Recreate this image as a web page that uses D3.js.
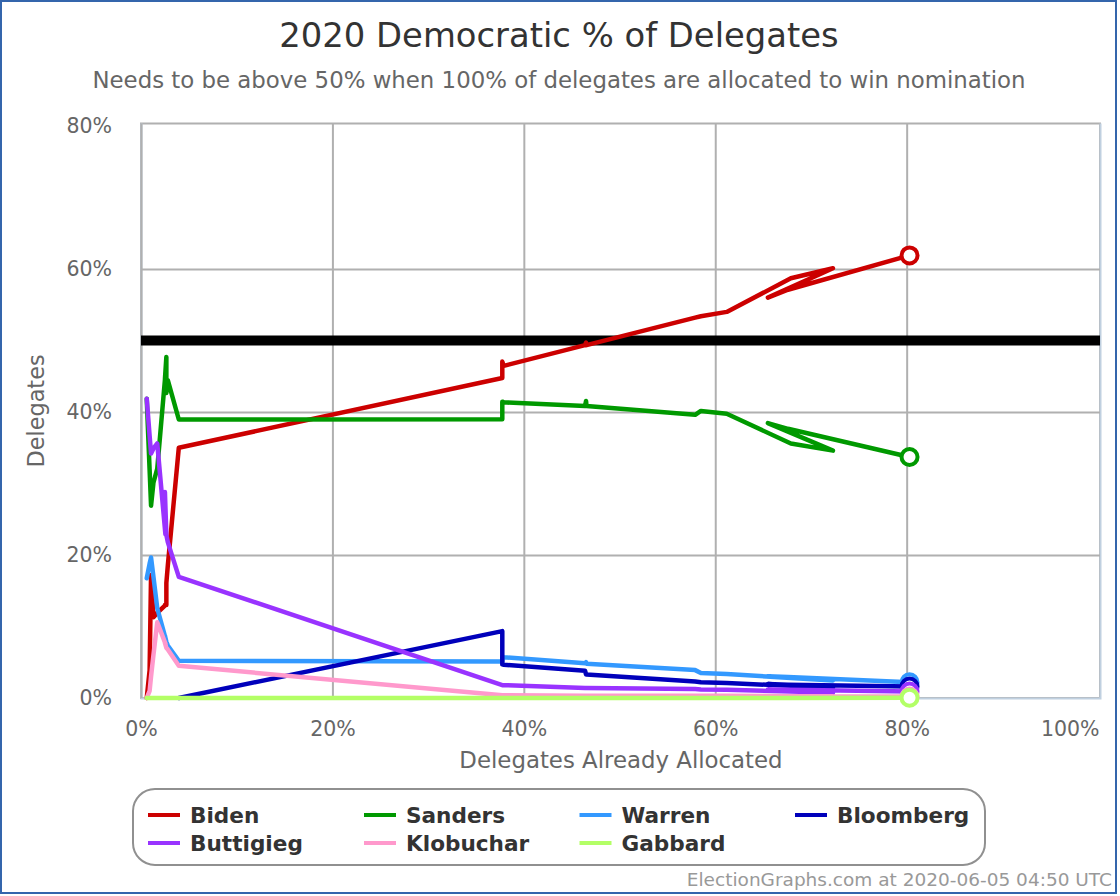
<!DOCTYPE html>
<html><head><meta charset="utf-8">
<script src="https://cdn.jsdelivr.net/npm/d3@7/dist/d3.min.js"></script>
<style>html,body{margin:0;padding:0;background:#fff}svg{display:block}text{font-family:"DejaVu Sans",sans-serif}</style>
</head><body><svg id="c" width="1120" height="896"></svg>
<script>
const allocated=[0.6,0.9,1.05,1.3,1.7,2.55,2.5,2.65,2.65,2.8,3.95,37.75,37.75,37.9,46.4,46.5,46.55,57.9,58.5,61.2,67.9,72.3,65.5,67.6,80.3];
const biden=[0,3.9,17.2,11.3,11.9,13,13,13,16.1,18.5,35,44.75,47.05,46.45,49.35,49.7,49.35,53.2,53.4,54,58.7,60.1,56,57.1,61.9];
const sanders=[41.85,31.9,26.9,30.1,32.1,45.3,44.6,47.7,42.65,44.45,38.95,39,41.45,41.35,40.85,41.55,40.85,39.6,40.15,39.75,35.6,34.6,38.45,37.65,33.7];
const warren=[16.75,18.8,19.65,16.95,12.55,8.4,8.7,7.85,7.85,7.35,5.2,5.1,5.75,5.7,4.85,5,4.8,3.9,3.5,3.35,2.8,2.45,3.05,2.95,2.2];
const bloomberg=[null,null,null,null,null,null,null,null,null,null,0,9.35,4.7,4.65,3.8,3.3,3.3,2.3,2.2,2.1,1.7,1.45,1.95,1.85,1.6];
const buttigieg=[41.85,36.7,34.2,34.9,35.6,22.9,28.8,22.8,22.8,21.8,16.95,1.8,1.8,1.8,1.4,1.4,1.4,1.25,1.2,1.15,0.9,0.75,1.2,1.15,0.9];
const klobuchar=[0,1,3,6,10.6,7.6,7.7,7,7,6.8,4.5,0.4,0.4,0.4,0.3,0.3,0.3,0.3,0.3,0.3,0.25,0.25,0.25,0.25,0.2];
const gabbard=[0,0,0,0,0,0,0,0,0,0,0,0,0,0,0,0,0,0,0,0,0,0,0,0,0.05];
const names=["Biden","Sanders","Warren","Bloomberg","Buttigieg","Klobuchar","Gabbard"];
const values=[biden,sanders,warren,bloomberg,buttigieg,klobuchar,gabbard];
const colors=["#cc0000","#009900","#3399ff","#0000bb","#9933ff","#ff99cc","#b3ff66"];
const xTicks=[0,20,40,60,80,100];
const yTicks=[0,20,40,60,80];
const threshold=50;
const titleText="2020 Democratic % of Delegates";
const subtitleText="Needs to be above 50% when 100% of delegates are allocated to win nomination";
const xTitle="Delegates Already Allocated";
const yTitle="Delegates";
const credit="ElectionGraphs.com at 2020-06-05 04:50 UTC";

const svg=d3.select("#c");
const L=141,R=1100,T=123.5,B=698;
const x=d3.scaleLinear().domain([0,100.2]).range([L,R]);
const y=d3.scaleLinear().domain([0,80.35]).range([B,T]);

svg.append("rect").attr("x",1).attr("y",1).attr("width",1115).attr("height",892).attr("fill","#fff").attr("stroke","#3465ac").attr("stroke-width",2);

svg.append("rect").attr("x",L).attr("y",T).attr("width",R-L).attr("height",B-T).attr("fill","none").attr("stroke","#b0b0b0").attr("stroke-width",2);

const gx=svg.append("g").attr("transform",`translate(0,${B})`)
  .call(d3.axisBottom(x).tickValues(xTicks).tickFormat(d=>d+"%").tickSize(-(B-T)).tickPadding(23));
const gy=svg.append("g").attr("transform",`translate(${L},0)`)
  .call(d3.axisLeft(y).tickValues(yTicks).tickFormat(d=>d+"%").tickSize(-(R-L)).tickPadding(29));
gx.select(".domain").attr("stroke","#c0d0e0").attr("stroke-width",2);
gy.select(".domain").remove();
gx.selectAll(".tick line").attr("stroke","#b0b0b0").attr("stroke-width",2);
gy.selectAll(".tick line").attr("stroke","#b0b0b0").attr("stroke-width",2);
gx.selectAll("text").attr("fill","#666").style("font-size","20.5px");
gy.selectAll("text").attr("fill","#666").style("font-size","20.5px");
gx.selectAll(".tick").filter(d=>d===100).select("line").remove();
gx.selectAll(".tick").filter(d=>d===100).select("text").attr("text-anchor","end").attr("x",1);
gy.selectAll(".tick").filter(d=>d===80||d===0).select("line").remove();

svg.append("line").attr("x1",L).attr("x2",R).attr("y1",y(threshold)).attr("y2",y(threshold)).attr("stroke","#000").attr("stroke-width",10);

const line=d3.line().defined(d=>d[1]!==null).x(d=>x(d[0])).y(d=>y(d[1]));
values.forEach((v,i)=>{
  const pts=v.map((d,k)=>[allocated[k],d]);
  svg.append("path").attr("d",line(pts)).attr("fill","none").attr("stroke",colors[i]).attr("stroke-width",4.5).attr("stroke-linejoin","round").attr("stroke-linecap","round");
  const last=pts[pts.length-1];
  svg.append("circle").attr("cx",x(last[0])).attr("cy",y(last[1])).attr("r",8).attr("fill","#fff").attr("stroke",colors[i]).attr("stroke-width",4);
});

svg.append("text").attr("x",559).attr("y",47).attr("text-anchor","middle").attr("fill","#333").style("font-size","33.8px").text(titleText);
svg.append("text").attr("x",559).attr("y",88).attr("text-anchor","middle").attr("fill","#666").style("font-size","22.85px").text(subtitleText);
svg.append("text").attr("x",621).attr("y",768).attr("text-anchor","middle").attr("fill","#666").style("font-size","22.85px").text(xTitle);
svg.append("text").attr("transform","translate(44,411) rotate(-90)").attr("text-anchor","middle").attr("fill","#666").style("font-size","22.4px").text(yTitle);

svg.append("rect").attr("x",133).attr("y",789).attr("width",852).attr("height",76).attr("rx",22).attr("ry",22).attr("fill","#fff").attr("stroke","#909090").attr("stroke-width",2);
const colX=[148,364,579.5,795],rowY=[815,843];
names.forEach((n,i)=>{
  const cx=colX[i%4],cy=rowY[Math.floor(i/4)];
  svg.append("line").attr("x1",cx).attr("x2",cx+32).attr("y1",cy).attr("y2",cy).attr("stroke",colors[i]).attr("stroke-width",4);
  svg.append("text").attr("x",cx+42).attr("y",cy+8).attr("fill","#333").style("font-size","21.6px").style("font-weight","bold").text(n);
});
svg.append("text").attr("x",1112).attr("y",886).attr("text-anchor","end").attr("fill","#999").style("font-size","18.5px").text(credit);
</script></body></html>
